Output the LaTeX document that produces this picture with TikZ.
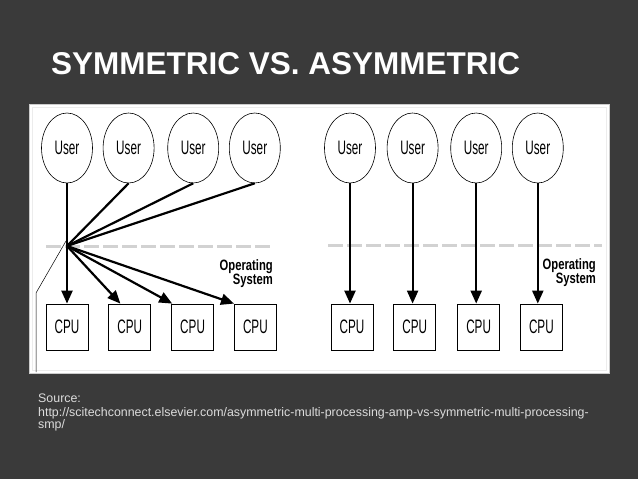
\documentclass[tikz,border=0pt]{standalone}
\usepackage{fontspec}
\setmainfont{Liberation Sans}
\usetikzlibrary{arrows.meta,positioning,shapes.geometric}
\definecolor{slidebg}{HTML}{3A3A3A}
\definecolor{srctext}{HTML}{DCDCDC}

\begin{document}
\begin{tikzpicture}[
    x=1pt, y=-1pt,
    user/.style={draw, ellipse, line width=0.6pt, minimum width=51pt, minimum height=70pt, inner sep=0pt,
        font=\fontsize{19.5}{19}\selectfont},
    cpu/.style={draw, rectangle, line width=0.8pt, minimum width=42pt, minimum height=46pt, inner sep=0pt,
        font=\fontsize{19.5}{19}\selectfont},
    ostext/.style={align=right, anchor=north east, inner sep=0pt, font=\bfseries\fontsize{15}{13}\selectfont},
    flow/.style={-{Triangle[length=13pt, width=11pt]}, line width=2.2pt},
    feed/.style={line width=2.2pt},
    osline/.style={gray!35, line width=3pt, dash pattern=on 15pt off 4pt}
]
\useasboundingbox (0,0) rectangle (638,479);
\fill[slidebg] (0,0) rectangle (638,479);

% title and panel
\node[anchor=base west, text=white, font=\bfseries\fontsize{31.5}{32}\selectfont, inner sep=0pt] (title) at (51,74) {SYMMETRIC VS. ASYMMETRIC};
\draw[gray!40, fill=white, line width=1pt] (29,104) rectangle (609,373);
\draw[gray!15, line width=0.8pt] (32,107) rectangle (606,370);

% symmetric side
\node[user] (uL1) at (67,148) {\scalebox{0.6}[1]{User}};
\node[user, right=10pt of uL1] (uL2) {\scalebox{0.6}[1]{User}};
\node[user, right=13pt of uL2] (uL3) {\scalebox{0.6}[1]{User}};
\node[user, right=10pt of uL3] (uL4) {\scalebox{0.6}[1]{User}};
\node[cpu] (cL1) at (67,327) {\scalebox{0.6}[1]{CPU}};
\node[cpu, right=20pt of cL1] (cL2) {\scalebox{0.6}[1]{CPU}};
\node[cpu, right=20pt of cL2] (cL3) {\scalebox{0.6}[1]{CPU}};
\node[cpu, right=20pt of cL3] (cL4) {\scalebox{0.6}[1]{CPU}};
\coordinate (hub) at (67,246);
\coordinate (bend) at (36,293);
\coordinate (foot) at (36,372);
\draw[osline] (46,246) -- (273,246);
\node[ostext] (osL) at (273,259) {\scalebox{0.75}[1]{Operating}\\\scalebox{0.75}[1]{System}};
\draw[feed] (uL1.south) -- (hub);
\draw[feed] (uL2.south) -- (hub);
\draw[feed] (uL3.south) -- (hub);
\draw[feed] (uL4.south) -- (hub);
\draw[flow] (hub) -- (cL1.north);
\draw[flow] (hub) -- ([xshift=12pt]cL2.north west);
\draw[flow] (hub) -- ([xshift=1pt]cL3.north west);
\draw[flow] (hub) -- ([xshift=0pt]cL4.north west);
\draw[line width=0.5pt] ([shift={(-1pt,5pt)}]hub) -- (bend) -- (foot);

% asymmetric side
\node[user] (uR1) at (350,148) {\scalebox{0.6}[1]{User}};
\node[user, right=11pt of uR1] (uR2) {\scalebox{0.6}[1]{User}};
\node[user, right=12pt of uR2] (uR3) {\scalebox{0.6}[1]{User}};
\node[user, right=10pt of uR3] (uR4) {\scalebox{0.6}[1]{User}};
\node[cpu] (cR1) at (352,327) {\scalebox{0.6}[1]{CPU}};
\node[cpu, right=20pt of cR1] (cR2) {\scalebox{0.6}[1]{CPU}};
\node[cpu, right=21pt of cR2] (cR3) {\scalebox{0.6}[1]{CPU}};
\node[cpu, right=20pt of cR3] (cR4) {\scalebox{0.6}[1]{CPU}};
\draw[osline] (328,245) -- (602,245);
\node[ostext] (osR) at (596,258) {\scalebox{0.75}[1]{Operating}\\\scalebox{0.75}[1]{System}};
\draw[flow] (uR1.south) -- (uR1.south |- cR1.north);
\draw[flow] (uR2.south) -- (uR2.south |- cR2.north);
\draw[flow] (uR3.south) -- (uR3.south |- cR3.north);
\draw[flow] (uR4.south) -- (uR4.south |- cR4.north);

% source
\node[anchor=north west, align=left, inner sep=0pt, text=srctext, font=\fontsize{12.4}{14}\selectfont] (src) at (38,394)
    {Source:\\http://scitechconnect.elsevier.com/asymmetric-multi-processing-amp-vs-symmetric-multi-processing-\\[-2.5pt]smp/};
\end{tikzpicture}
\end{document}
